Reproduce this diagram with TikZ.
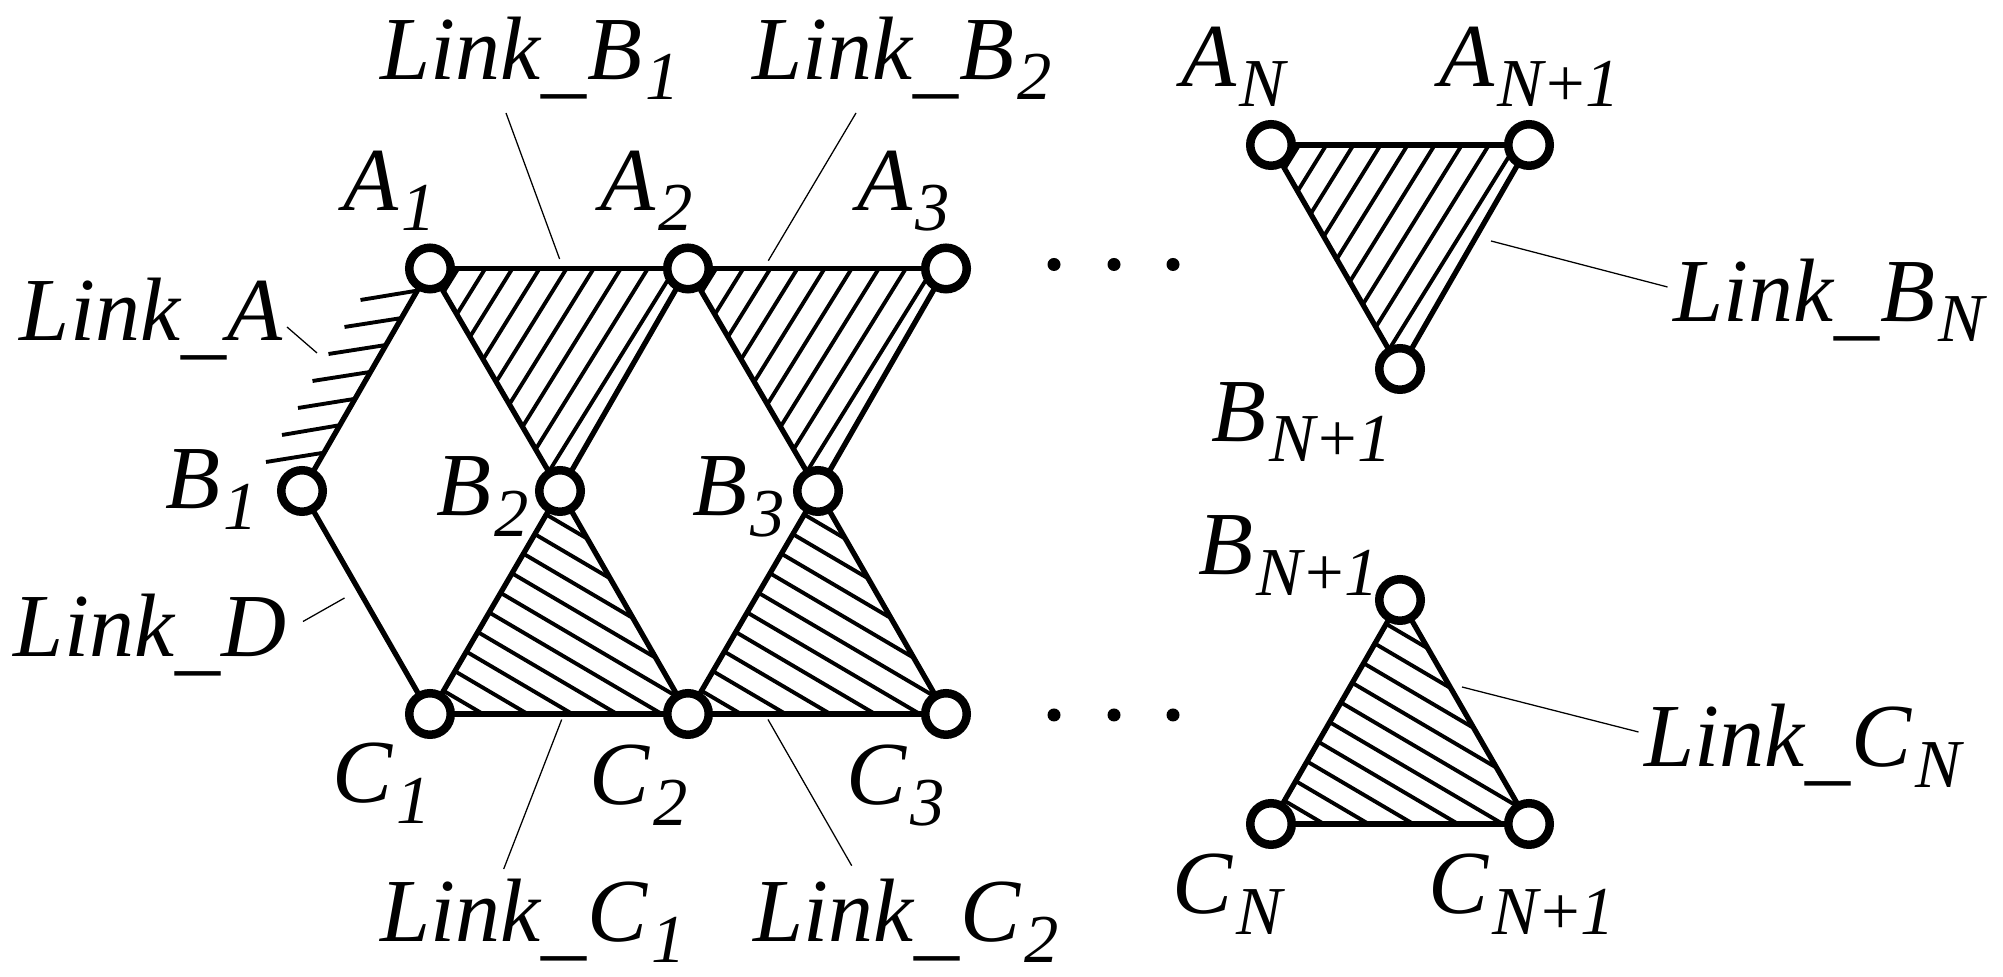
\documentclass[tikz,border=0pt]{standalone}
\usepackage{fontspec}
\usetikzlibrary{backgrounds}
\setmainfont{Liberation Serif}
\setlength{\unitlength}{0.2845pt}
\newcommand{\lab}[2]{\textit{#1}\raisebox{-20\unitlength}{\fontsize{19.5pt}{20pt}\selectfont\kern1pt #2}}
\newcommand{\us}{\raisebox{-8\unitlength}{\textit{\_}}}
\newcommand{\Sone}{\textit{1}}
\newcommand{\Stwo}{\textit{2}}
\newcommand{\Sthr}{\textit{3}}
\newcommand{\Sn}{\textit{N}}
\newcommand{\Snp}{\textit{N}+\textit{1}}
\tikzset{
  x=0.01cm,y=-0.01cm,
  joint/.style={circle,draw=black,fill=white,line width=2.42pt,inner sep=0pt,minimum size=11.8pt,outer sep=0pt},
  barline/.style={line width=1.5pt,black},
  hatchline/.style={line width=1.1pt,black},
  leader/.style={line width=0.36pt,black},
  txt/.style={anchor=base west,inner sep=0pt,outer sep=0pt,font=\fontsize{25.6pt}{27pt}\selectfont},
  dotmark/.style={circle,fill=black,inner sep=0pt,minimum size=3.7pt},
}
\newcommand{\hatchup}[3]{%
  \begin{scope}
    \clip (#1.center)--(#2.center)--(#3.center)--cycle;
    \begin{scope}[shift={(#2.center)}]
      \foreach \k in {0,...,9} {\draw[hatchline] (-13-27.1*\k,0) -- ++(-149,240);}
    \end{scope}
  \end{scope}}
\newcommand{\hatchdn}[3]{%
  \begin{scope}
    \clip (#1.center)--(#2.center)--(#3.center)--cycle;
    \begin{scope}[shift={(#1.center)}]
      \foreach \k in {0,...,9} {\draw[hatchline] (53+44.7*\k,0) -- ++(-408,-240);}
    \end{scope}
  \end{scope}}
\begin{document}
\begin{tikzpicture}
\useasboundingbox (0,0) rectangle (2003,977);
% joints
\node[joint] (A1) at (430,268.5) {};
\node[joint] (A2) at (688,268.5) {};
\node[joint] (A3) at (946,268.5) {};
\node[joint] (B1) at (302,491) {};
\node[joint] (B2) at (560,491) {};
\node[joint] (B3) at (818,491) {};
\node[joint] (C1) at (430,714) {};
\node[joint] (C2) at (688,714) {};
\node[joint] (C3) at (946,714) {};
\node[joint] (AN) at (1271,145) {};
\node[joint] (AP) at (1529,145) {};
\node[joint] (BP) at (1400,369) {};
\node[joint] (BQ) at (1400,600) {};
\node[joint] (CN) at (1271,824) {};
\node[joint] (CP) at (1529,824) {};
\begin{pgfonlayer}{background}
% hatching
\hatchup{A1}{A2}{B2}
\hatchup{A2}{A3}{B3}
\hatchup{AN}{AP}{BP}
\hatchdn{C1}{C2}{B2}
\hatchdn{C2}{C3}{B3}
\hatchdn{CN}{CP}{BQ}
% bars
\foreach \a/\b in {A1/A2,A2/A3,A1/B2,A2/B2,A2/B3,A3/B3,A1/B1,B1/C1,C1/C2,C2/C3,C1/B2,B2/C2,C2/B3,B3/C3,AN/AP,AN/BP,AP/BP,BQ/CN,BQ/CP,CN/CP}
  \draw[barline] (\a) -- (\b);
% ground hatching of Link_A
\foreach \xa/\ya/\xb/\yb in {360.5/300/418/290.5,344.5/327/402/318,328.5/354/386/345,312.5/381/370/372,298/408/354/399,282/435/338/425.5,266/462/322/453}
  \draw[hatchline] (\xa,\ya) -- (\xb,\yb);
\end{pgfonlayer}
% dots
\foreach \i/\x in {1/1054,2/1114,3/1173} {
  \node[dotmark] (ud\i) at (\x,264.5) {};
  \node[dotmark] (ld\i) at (\x,715) {};
}
% leaders
\foreach \n/\xa/\ya/\xb/\yb in {la/287/327/317/353,ld/303/621.5/344.5/598,lb/506/113/559.6/259,lc/856/113/768.3/260.7,lbn/1491/241/1667.5/287,lcn/1462/687/1638.5/732,lcc/503.7/869/561.7/719.5,lcd/851.7/865.7/768/719.5} {
  \coordinate (\n s) at (\xa,\ya);
  \coordinate (\n e) at (\xb,\yb);
  \draw[leader] (\n s) -- (\n e);
}
% labels
\node[txt] (tA1) at (343,211) {\lab{A}{\Sone}};
\node[txt] (tA2) at (600,211) {\lab{A}{\Stwo}};
\node[txt] (tA3) at (857,211) {\lab{A}{\Sthr}};
\node[txt] (tB1) at (165,509) {\lab{B}{\Sone}};
\node[txt] (tB2) at (436,516) {\lab{B}{\Stwo}};
\node[txt] (tB3) at (692,516) {\lab{B}{\Sthr}};
\node[txt] (tC1) at (332,803) {\lab{C}{\Sone}};
\node[txt] (tC2) at (589,805) {\lab{C}{\Stwo}};
\node[txt] (tC3) at (846,805) {\lab{C}{\Sthr}};
\node[txt] (tAN) at (1181,87) {\lab{A}{\Sn}};
\node[txt] (tAP) at (1439,87) {\lab{A}{\Snp}};
\node[txt] (tBP) at (1211,442) {\lab{B}{\Snp}};
\node[txt] (tBQ) at (1198,575) {\lab{B}{\Snp}};
\node[txt] (tCN) at (1172,914) {\lab{C}{\Sn}};
\node[txt] (tCP) at (1428,914) {\lab{C}{\Snp}};
\node[txt] (tLA) at (20,341) {\textit{Link}\us\textit{A}};
\node[txt] (tLD) at (14,657) {\textit{Link}\us\textit{D}};
\node[txt] (tLB1) at (380,80) {\textit{Link}\us\lab{B}{\Sone}};
\node[txt] (tLB2) at (752,80) {\textit{Link}\us\lab{B}{\Stwo}};
\node[txt] (tLBN) at (1673,322) {\textit{Link}\us\lab{B}{\Sn}};
\node[txt] (tLC1) at (380,942) {\textit{Link}\us\lab{C}{\Sone}};
\node[txt] (tLC2) at (753,942) {\textit{Link}\us\lab{C}{\Stwo}};
\node[txt] (tLCN) at (1644,767) {\textit{Link}\us\lab{C}{\Sn}};
\end{tikzpicture}
\end{document}
